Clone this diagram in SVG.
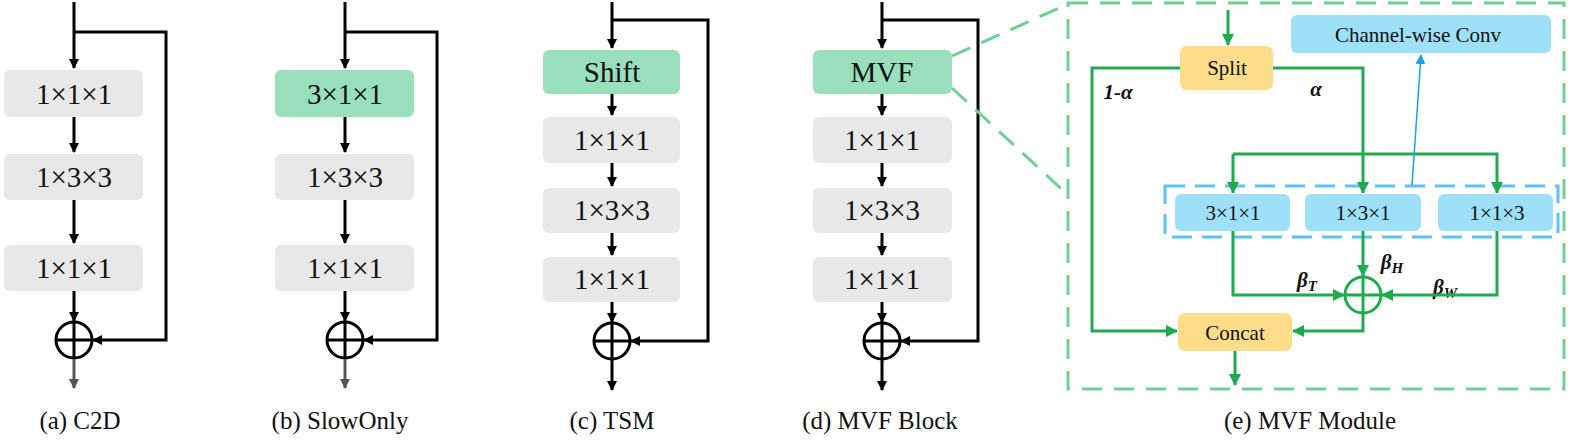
<svg xmlns="http://www.w3.org/2000/svg" width="1575" height="443" viewBox="0 0 1575 443">
<defs>
<marker id="ak" markerWidth="10" markerHeight="10" refX="9" refY="5" orient="auto" markerUnits="userSpaceOnUse"><path d="M0,0 L10,5 L0,10 z" fill="#000"/></marker>
<marker id="ag" markerWidth="10" markerHeight="10" refX="9" refY="5" orient="auto" markerUnits="userSpaceOnUse"><path d="M0,0 L10,5 L0,10 z" fill="#555"/></marker>
<marker id="an" markerWidth="12" markerHeight="12" refX="11" refY="6" orient="auto" markerUnits="userSpaceOnUse"><path d="M0,0 L12,6 L0,12 z" fill="#1faa50"/></marker>
<marker id="ab" markerWidth="10" markerHeight="10" refX="9" refY="5" orient="auto" markerUnits="userSpaceOnUse"><path d="M0,0 L10,5 L0,10 z" fill="#1aa3e0"/></marker>
</defs>
<style>
text{font-family:"Liberation Serif",serif;fill:#111;text-anchor:middle;dominant-baseline:central}
.t{font-size:29px}.c{font-size:25px}.s{font-size:21px}
.g{fill:#e8e8e8}.m{fill:#99dfbb}.y{fill:#fddc8a}.b{fill:#9ee0f8}
.k{stroke:#000;stroke-width:3;fill:none}
.n{stroke:#1faa50;stroke-width:3;fill:none}
.i{font-style:italic;font-weight:bold}
</style>
<rect width="1575" height="443" fill="#fff"/>
<g id="a">
<rect class="g" x="4" y="70" width="139" height="47" rx="6"/><text class="t" x="74" y="94">1×1×1</text>
<rect class="g" x="4" y="154" width="139" height="46" rx="6"/><text class="t" x="74" y="177">1×3×3</text>
<rect class="g" x="4" y="245" width="139" height="46" rx="6"/><text class="t" x="74" y="268">1×1×1</text>
<circle class="k" cx="74" cy="340" r="18"/><path class="k" d="M56,340H92M74,322V358"/>
<text class="c" x="80" y="420">(a) C2D</text>
</g>
<g id="b">
<rect class="m" x="275" y="70" width="139" height="47" rx="6"/><text class="t" x="345" y="94">3×1×1</text>
<rect class="g" x="275" y="154" width="139" height="46" rx="6"/><text class="t" x="345" y="177">1×3×3</text>
<rect class="g" x="275" y="245" width="139" height="46" rx="6"/><text class="t" x="345" y="268">1×1×1</text>
<circle class="k" cx="345" cy="340" r="18"/><path class="k" d="M327,340H363M345,322V358"/>
<text class="c" x="340" y="420">(b) SlowOnly</text>
</g>
<g id="c">
<rect class="m" x="543" y="50" width="137" height="44" rx="6"/><text class="t" x="612" y="72">Shift</text>
<rect class="g" x="543" y="117" width="137" height="46" rx="6"/><text class="t" x="612" y="140">1×1×1</text>
<rect class="g" x="543" y="188" width="137" height="45" rx="6"/><text class="t" x="612" y="210">1×3×3</text>
<rect class="g" x="543" y="257" width="137" height="45" rx="6"/><text class="t" x="612" y="279">1×1×1</text>
<circle class="k" cx="612" cy="341" r="18"/><path class="k" d="M594,341H630M612,323V359"/>
<text class="c" x="612" y="420">(c) TSM</text>
</g>
<g id="d">
<rect class="m" x="813" y="50" width="139" height="44" rx="6"/><text class="t" x="882" y="72">MVF</text>
<rect class="g" x="813" y="117" width="139" height="46" rx="6"/><text class="t" x="882" y="140">1×1×1</text>
<rect class="g" x="813" y="188" width="139" height="45" rx="6"/><text class="t" x="882" y="210">1×3×3</text>
<rect class="g" x="813" y="257" width="139" height="45" rx="6"/><text class="t" x="882" y="279">1×1×1</text>
<circle class="k" cx="882" cy="341" r="18"/><path class="k" d="M864,341H900M882,323V359"/>
<text class="c" x="880" y="420">(d) MVF Block</text>
</g>
<g id="e">
<rect x="1068" y="3" width="496" height="386" fill="none" stroke="#6fcf95" stroke-width="3" stroke-dasharray="20,12"/>
<rect class="y" x="1180" y="46" width="93" height="44" rx="7"/><text class="s" x="1227" y="68">Split</text>
<rect class="b" x="1291" y="15" width="260" height="38" rx="6"/><text class="s" x="1418" y="35">Channel-wise Conv</text>
<rect x="1165" y="186" width="393" height="51" fill="none" stroke="#5cc4ee" stroke-width="3" stroke-dasharray="20,10"/>
<rect class="b" x="1175" y="194" width="115" height="37" rx="6"/><text class="s" x="1233" y="213">3×1×1</text>
<rect class="b" x="1305" y="194" width="116" height="37" rx="6"/><text class="s" x="1363" y="213">1×3×1</text>
<rect class="b" x="1438" y="194" width="115" height="37" rx="6"/><text class="s" x="1497" y="213">1×1×3</text>
<circle class="n" cx="1363" cy="295" r="18"/><path class="n" d="M1345,295H1381M1363,277V313"/>
<rect class="y" x="1178" y="313" width="114" height="38" rx="7"/><text class="s" x="1235" y="333">Concat</text>
<text class="s i" x="1118" y="92">1-α</text>
<text class="s i" x="1316" y="89">α</text>
<text class="s i" x="1307" y="280">β<tspan font-size="15" dy="6">T</tspan></text>
<text class="s i" x="1392" y="262">β<tspan font-size="15" dy="6">H</tspan></text>
<text class="s i" x="1445" y="287">β<tspan font-size="15" dy="6">W</tspan></text>
<text class="c" x="1310" y="420">(e) MVF Module</text>
</g>
<g id="connectors">
<path class="k" d="M74,2V68" marker-end="url(#ak)"/>
<path class="k" d="M74,32H166V340H93" marker-end="url(#ak)"/>
<path class="k" d="M74,117V152" marker-end="url(#ak)"/>
<path class="k" d="M74,200V243" marker-end="url(#ak)"/>
<path class="k" d="M74,291V321" marker-end="url(#ak)"/>
<path d="M74,359V388" stroke="#555" stroke-width="3" marker-end="url(#ag)"/>
<path class="k" d="M345,2V68" marker-end="url(#ak)"/>
<path class="k" d="M345,32H437V340H364" marker-end="url(#ak)"/>
<path class="k" d="M345,117V152" marker-end="url(#ak)"/>
<path class="k" d="M345,200V243" marker-end="url(#ak)"/>
<path class="k" d="M345,291V321" marker-end="url(#ak)"/>
<path d="M345,359V388" stroke="#555" stroke-width="3" marker-end="url(#ag)"/>
<path class="k" d="M612,2V48" marker-end="url(#ak)"/>
<path class="k" d="M612,20H708V341H631" marker-end="url(#ak)"/>
<path class="k" d="M612,94V115" marker-end="url(#ak)"/>
<path class="k" d="M612,163V186" marker-end="url(#ak)"/>
<path class="k" d="M612,233V255" marker-end="url(#ak)"/>
<path class="k" d="M612,302V322" marker-end="url(#ak)"/>
<path class="k" d="M612,360V390" marker-end="url(#ak)"/>
<path class="k" d="M882,2V48" marker-end="url(#ak)"/>
<path class="k" d="M882,20H978V341H901" marker-end="url(#ak)"/>
<path class="k" d="M882,94V115" marker-end="url(#ak)"/>
<path class="k" d="M882,163V186" marker-end="url(#ak)"/>
<path class="k" d="M882,233V255" marker-end="url(#ak)"/>
<path class="k" d="M882,302V322" marker-end="url(#ak)"/>
<path class="k" d="M882,360V390" marker-end="url(#ak)"/>
<path d="M952,56L1068,4M952,88L1068,195" stroke="#6fcf95" stroke-width="3" stroke-dasharray="20,12" fill="none"/>
<path class="n" d="M1228,10V45" marker-end="url(#an)"/>
<path class="n" d="M1180,68H1092V331H1177" marker-end="url(#an)"/>
<path class="n" d="M1273,68H1363V193" marker-end="url(#an)"/>
<path class="n" d="M1233,154V193" marker-end="url(#an)"/>
<path class="n" d="M1233,154H1497V193" marker-end="url(#an)"/>
<path class="n" d="M1233,231V295H1344" marker-end="url(#an)"/>
<path class="n" d="M1497,231V295H1382" marker-end="url(#an)"/>
<path class="n" d="M1363,231V276" marker-end="url(#an)"/>
<path class="n" d="M1363,313V331H1293" marker-end="url(#an)"/>
<path class="n" d="M1235,351V385" marker-end="url(#an)"/>
<path d="M1412,185L1421,55" stroke="#1aa3e0" stroke-width="1.5" marker-end="url(#ab)"/>
</g>
</svg>
